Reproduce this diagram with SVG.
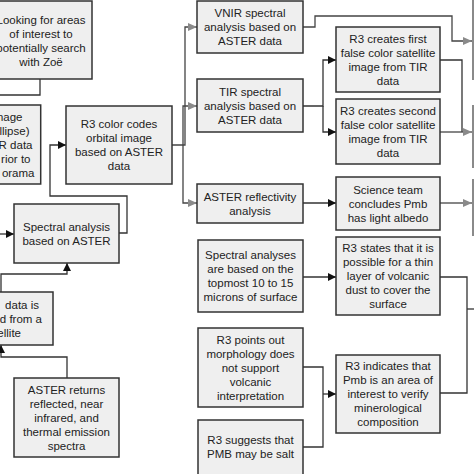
<svg xmlns="http://www.w3.org/2000/svg" width="474" height="474" viewBox="0 0 474 474">
<style>
.box{fill:#efefef;stroke:#333;stroke-width:1.5}
.gbox{fill:#f2f2f2;stroke:#8a8a8a;stroke-width:2}
.t{font-family:"Liberation Sans",Arial,sans-serif;font-size:11.5px;fill:#222;text-anchor:middle}
.te{font-family:"Liberation Sans",Arial,sans-serif;font-size:11.5px;fill:#222;text-anchor:end}
.c{fill:none;stroke:#333;stroke-width:1.3}
.ca{fill:none;stroke:#333;stroke-width:1.3;marker-end:url(#ab)}
.cg{fill:none;stroke:#444;stroke-width:1.3;marker-end:url(#ag)}
</style>
<defs>
<marker id="ab" markerUnits="userSpaceOnUse" markerWidth="8" markerHeight="8" refX="8" refY="4" orient="auto"><path d="M0,0 L8,4 L0,8 z" fill="#111"/></marker>
<marker id="ag" markerUnits="userSpaceOnUse" markerWidth="9" markerHeight="8" refX="9" refY="4" orient="auto"><path d="M0,0 L9,4 L0,8 z" fill="#8a8a8a"/></marker>
</defs>
<rect width="474" height="474" fill="#fff"/>
<g id="connectors">
<path class="c" d="M40,79 V95 H-5"/>
<path class="ca" d="M-5,234 H14"/>
<path class="ca" d="M119,233 H127 V196 H50 V145 H66"/>
<path class="ca" d="M1,292 V274 H67 V263"/>
<path class="ca" d="M67,378 V357 H1 V345"/>
<path class="cg" d="M172,145 H185 V27 H197"/>
<path class="cg" d="M183,145 V106 H197"/>
<path class="cg" d="M183,145 V203 H197"/>
<path class="cg" d="M303,27 H315 V16 H452 V41 H472"/>
<path class="ca" d="M303,106 H323 V60 H336"/>
<path class="ca" d="M323,106 V132 H336"/>
<path class="c" d="M440,60 H462 V132"/>
<path class="cg" d="M440,132 H472"/>
<path class="ca" d="M303,203 H336"/>
<path class="cg" d="M440,203 H472"/>
<path class="ca" d="M303,277 H336"/>
<path class="c" d="M303,367 H323 V447 H303"/>
<path class="ca" d="M323,394 H336"/>
<path class="c" d="M440,277 H467 V393 H440"/>
<path class="c" d="M467,309 H480"/>
</g>
<g id="n1"><rect class="box" x="-10" y="1" width="102" height="78"/>
<text class="t" x="41" y="24">Looking for areas</text><text class="t" x="41" y="38">of interest to</text><text class="t" x="41" y="52">potentially search</text><text class="t" x="41" y="66">with Zoë</text></g>
<g id="n2"><rect class="box" x="-20" y="105" width="60.7" height="79"/>
<text class="te" x="22.5" y="120.5">mage</text><text class="te" x="29.5" y="134.5">llipse)</text><text class="te" x="32.5" y="148.5">R data</text><text class="te" x="30.5" y="162.5">rior to</text><text class="te" x="34.5" y="176.5">orama</text></g>
<g id="n3"><rect class="box" x="14" y="204" width="105" height="59"/>
<text class="t" x="66.5" y="230.5">Spectral analysis</text><text class="t" x="66.5" y="244.5">based on ASTER</text></g>
<g id="n4"><rect class="box" x="66" y="106" width="106" height="78"/>
<text class="t" x="119" y="128">R3 color codes</text><text class="t" x="119" y="142">orbital image</text><text class="t" x="119" y="156">based on ASTER</text><text class="t" x="119" y="170">data</text></g>
<g id="n5"><rect class="box" x="-53" y="292" width="106" height="53"/>
<text class="te" x="39" y="308.5">data is</text><text class="te" x="42" y="322.5">d from a</text><text class="te" x="21" y="336.5">ellite</text></g>
<g id="n6"><rect class="box" x="14" y="378" width="105" height="79"/>
<text class="t" x="66.5" y="393.5">ASTER returns</text><text class="t" x="66.5" y="407.5">reflected, near</text><text class="t" x="66.5" y="421.5">infrared, and</text><text class="t" x="66.5" y="435.5">thermal emission</text><text class="t" x="66.5" y="449.5">spectra</text></g>
<g id="n7"><rect class="box" x="197" y="1" width="106" height="52"/>
<text class="t" x="250" y="17">VNIR spectral</text><text class="t" x="250" y="31">analysis based on</text><text class="t" x="250" y="45">ASTER data</text></g>
<g id="n8"><rect class="box" x="197" y="79" width="106" height="53"/>
<text class="t" x="250" y="95.5">TIR spectral</text><text class="t" x="250" y="109.5">analysis based on</text><text class="t" x="250" y="123.5">ASTER data</text></g>
<g id="n9"><rect class="box" x="197" y="184" width="106" height="39"/>
<text class="t" x="250" y="200.5">ASTER reflectivity</text><text class="t" x="250" y="214.5">analysis</text></g>
<g id="n10"><rect class="box" x="336" y="27" width="104" height="65"/>
<text class="t" x="388" y="42.5">R3 creates first</text><text class="t" x="388" y="56.5">false color satellite</text><text class="t" x="388" y="70.5">image from TIR</text><text class="t" x="388" y="84.5">data</text></g>
<g id="n11"><rect class="box" x="336" y="99" width="104" height="65"/>
<text class="t" x="388" y="114.5">R3 creates second</text><text class="t" x="388" y="128.5">false color satellite</text><text class="t" x="388" y="142.5">image from TIR</text><text class="t" x="388" y="156.5">data</text></g>
<g id="n12"><rect class="box" x="336" y="177" width="104" height="53"/>
<text class="t" x="388" y="193.5">Science team</text><text class="t" x="388" y="207.5">concludes Pmb</text><text class="t" x="388" y="221.5">has light albedo</text></g>
<g id="n13"><rect class="box" x="336" y="237" width="104" height="78"/>
<text class="t" x="388" y="252">R3 states that it is</text><text class="t" x="388" y="266">possible for a thin</text><text class="t" x="388" y="280">layer of volcanic</text><text class="t" x="388" y="294">dust to cover the</text><text class="t" x="388" y="308">surface</text></g>
<g id="n14"><rect class="box" x="336" y="355" width="104" height="78"/>
<text class="t" x="388" y="370">R3 indicates that</text><text class="t" x="388" y="384">Pmb is an area of</text><text class="t" x="388" y="398">interest to verify</text><text class="t" x="388" y="412">minerological</text><text class="t" x="388" y="426">composition</text></g>
<g id="n15"><rect class="box" x="198" y="240" width="105" height="72"/>
<text class="t" x="250.5" y="259">Spectral analyses</text><text class="t" x="250.5" y="273">are based on the</text><text class="t" x="250.5" y="287">topmost 10 to 15</text><text class="t" x="250.5" y="301">microns of surface</text></g>
<g id="n16"><rect class="box" x="198" y="328" width="105" height="79"/>
<text class="t" x="250.5" y="343.5">R3 points out</text><text class="t" x="250.5" y="357.5">morphology does</text><text class="t" x="250.5" y="371.5">not support</text><text class="t" x="250.5" y="385.5">volcanic</text><text class="t" x="250.5" y="399.5">interpretation</text></g>
<g id="n17"><rect class="box" x="198" y="420" width="105" height="60"/>
<text class="t" x="250.5" y="444">R3 suggests that</text><text class="t" x="250.5" y="458">PMB may be salt</text></g>
<g id="n18"><rect class="gbox" x="473" y="1" width="60" height="78"/></g>
<g id="n19"><rect class="gbox" x="473" y="106" width="60" height="61"/></g>
<g id="n20"><rect class="gbox" x="473" y="180" width="60" height="55"/></g>
</svg>
